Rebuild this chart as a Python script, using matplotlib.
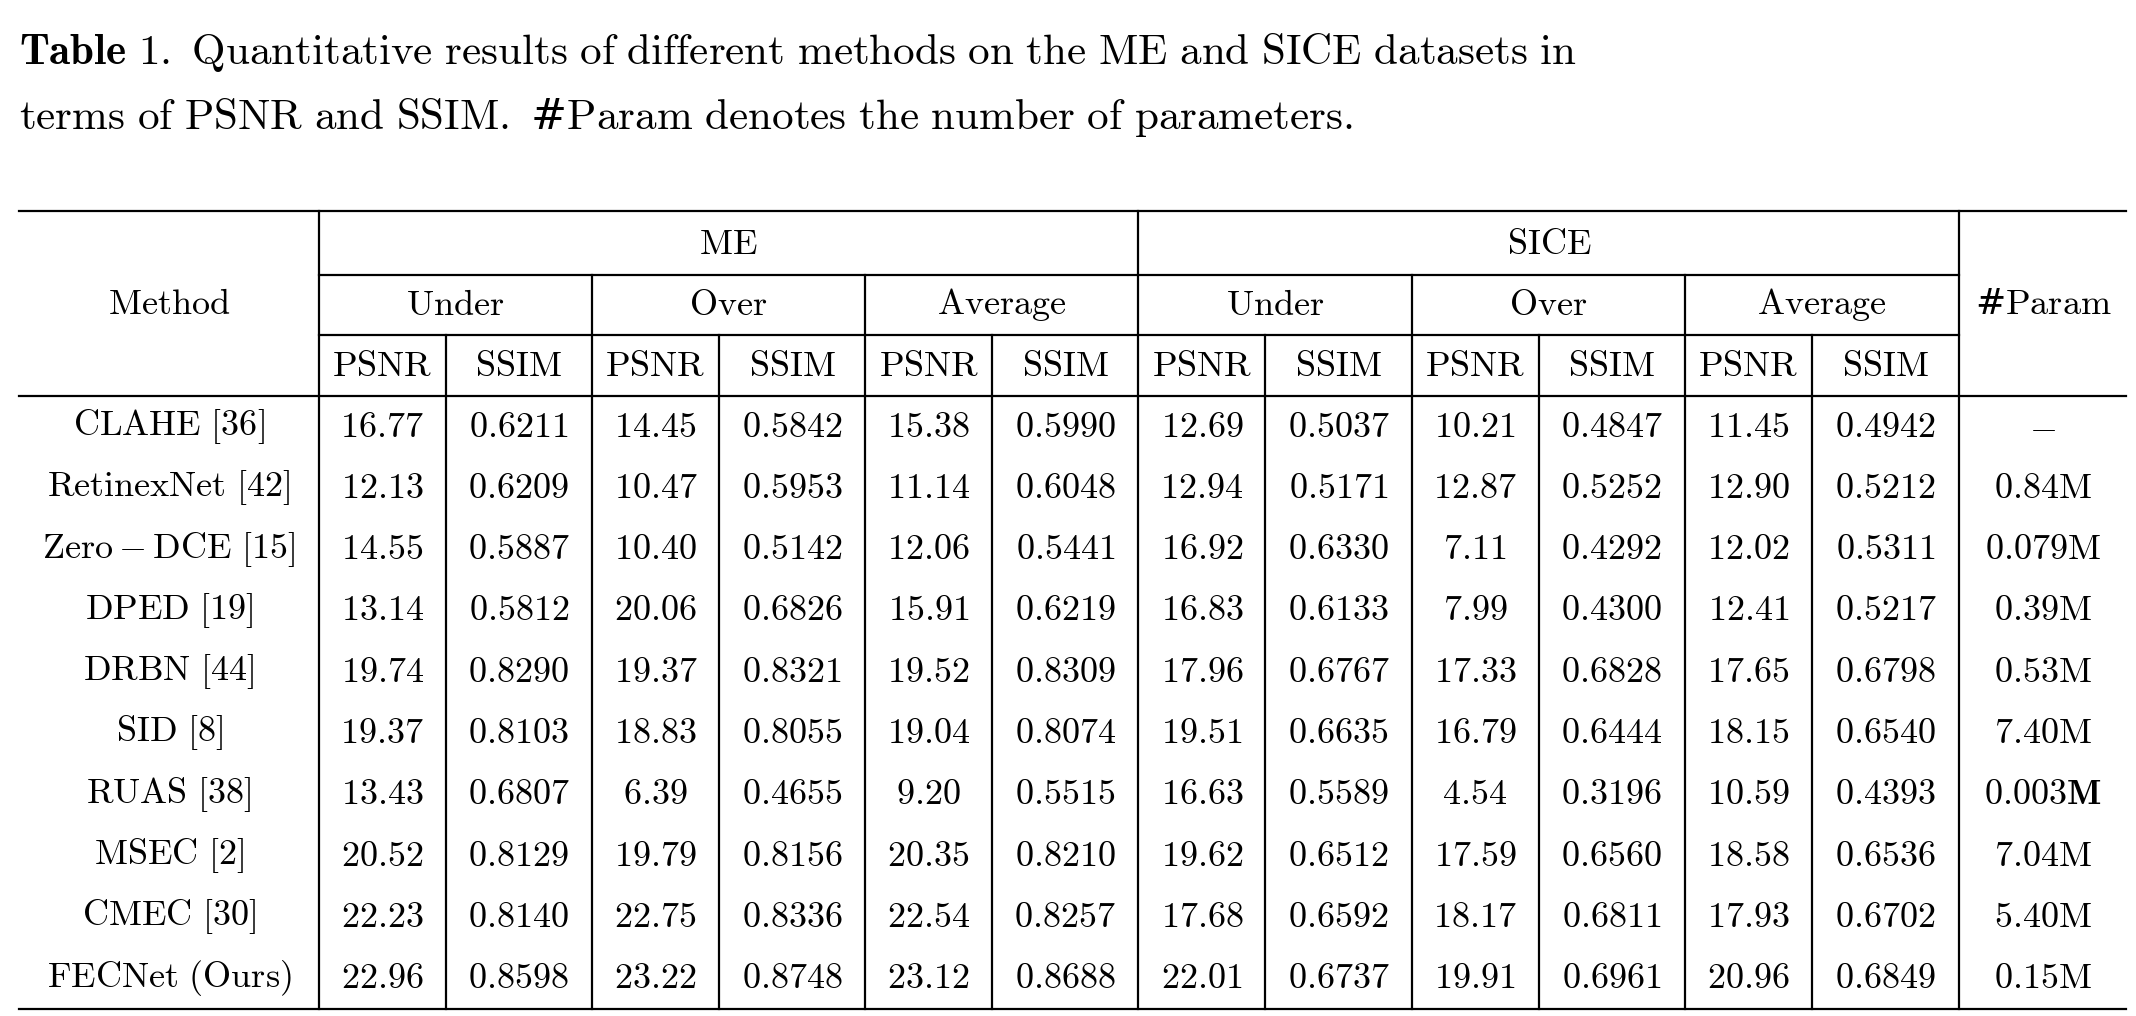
import matplotlib
matplotlib.use("Agg")
import matplotlib.pyplot as plt

plt.rcParams['mathtext.fontset'] = 'cm'
plt.rcParams['font.family'] = 'DejaVu Serif'

methods = ['CLAHE [36]', 'RetinexNet [42]', 'Zero-DCE [15]', 'DPED [19]', 'DRBN [44]',
           'SID [8]', 'RUAS [38]', 'MSEC [2]', 'CMEC [30]', 'FECNet (Ours)']
values = [
    ['16.77', '0.6211', '14.45', '0.5842', '15.38', '0.5990', '12.69', '0.5037', '10.21', '0.4847', '11.45', '0.4942'],
    ['12.13', '0.6209', '10.47', '0.5953', '11.14', '0.6048', '12.94', '0.5171', '12.87', '0.5252', '12.90', '0.5212'],
    ['14.55', '0.5887', '10.40', '0.5142', '12.06', '0.5441', '16.92', '0.6330', '7.11', '0.4292', '12.02', '0.5311'],
    ['13.14', '0.5812', '20.06', '0.6826', '15.91', '0.6219', '16.83', '0.6133', '7.99', '0.4300', '12.41', '0.5217'],
    ['19.74', '0.8290', '19.37', '0.8321', '19.52', '0.8309', '17.96', '0.6767', '17.33', '0.6828', '17.65', '0.6798'],
    ['19.37', '0.8103', '18.83', '0.8055', '19.04', '0.8074', '19.51', '0.6635', '16.79', '0.6444', '18.15', '0.6540'],
    ['13.43', '0.6807', '6.39', '0.4655', '9.20', '0.5515', '16.63', '0.5589', '4.54', '0.3196', '10.59', '0.4393'],
    ['20.52', '0.8129', '19.79', '0.8156', '20.35', '0.8210', '19.62', '0.6512', '17.59', '0.6560', '18.58', '0.6536'],
    ['22.23', '0.8140', '22.75', '0.8336', '22.54', '0.8257', '17.68', '0.6592', '18.17', '0.6811', '17.93', '0.6702'],
    ['22.96', '0.8598', '23.22', '0.8748', '23.12', '0.8688', '22.01', '0.6737', '19.91', '0.6961', '20.96', '0.6849'],
]
params = ['-', '0.84M', '0.079M', '0.39M', '0.53M', '7.40M', '0.003M', '7.04M', '5.40M', '0.15M']
# (row, col) bold cells; col 12 = #Param
bold = {(4, 7), (6, 12)} | {(9, c) for c in range(12) if c != 7}


def m(s, b=False):
    # '#' is kept outside the math parts
    out = []
    for part in s.split('#'):
        if part:
            p = part.replace(' ', '\\ ')
            out.append(r'$\mathbf{%s}$' % p if b else r'$\mathrm{%s}$' % p)
        out.append('#')
    return ''.join(out[:-1])


S = 2136 / 1548  # layout drawn in reference-scale units
fig = plt.figure(figsize=(21.36, 10.16), dpi=100)
ax = fig.add_axes([0, 0, 1, 1])
ax.set_xlim(0, 1548)
ax.set_ylim(1016 / S, 0)
ax.axis('off')

fs = 26
lw = 1.6

ax.text(14, 38, r'$\mathbf{Table\ 1.}\ \mathrm{Quantitative\ results\ of\ different\ methods\ on\ the\ ME\ and\ SICE\ datasets\ in}$',
        fontsize=31, va='center', ha='left')
ax.text(14, 85, m('terms of PSNR and SSIM. #Param denotes the number of parameters.'),
        fontsize=31, va='center', ha='left')

xs = [14, 231, 323, 429, 521, 627, 719, 825, 917, 1023, 1115, 1221, 1313, 1420, 1541]
top, y_me, y_sub, y_hdr, bot = 153, 199, 243, 287, 731
row_h = (bot - y_hdr) / len(methods)

for y, x0, x1 in [(top, xs[0], xs[-1]), (y_me, xs[1], xs[13]), (y_sub, xs[1], xs[13]),
                  (y_hdr, xs[0], xs[-1]), (bot, xs[0], xs[-1])]:
    ax.plot([x0, x1], [y, y], color='black', lw=lw)
for i in [1, 7, 13]:
    ax.plot([xs[i], xs[i]], [top, bot], color='black', lw=lw)
for i in [3, 5, 9, 11]:
    ax.plot([xs[i], xs[i]], [y_me, bot], color='black', lw=lw)
for i in [2, 4, 6, 8, 10, 12]:
    ax.plot([xs[i], xs[i]], [y_sub, bot], color='black', lw=lw)

ax.text((xs[0] + xs[1]) / 2, 220, m('Method'), fontsize=fs, ha='center', va='center')
ax.text((xs[13] + xs[14]) / 2, 220, m('#Param'), fontsize=fs, ha='center', va='center')
ax.text((xs[1] + xs[7]) / 2, 177, m('ME'), fontsize=fs, ha='center', va='center')
ax.text((xs[7] + xs[13]) / 2, 177, m('SICE'), fontsize=fs, ha='center', va='center')
for g, name in enumerate(['Under', 'Over', 'Average'] * 2):
    ax.text((xs[1 + 2 * g] + xs[3 + 2 * g]) / 2, 221, m(name), fontsize=fs, ha='center', va='center')
for c in range(12):
    ax.text((xs[1 + c] + xs[2 + c]) / 2, 265, m('PSNR' if c % 2 == 0 else 'SSIM'),
            fontsize=fs, ha='center', va='center')

for r, name in enumerate(methods):
    yc = y_hdr + row_h * (r + 0.5)
    ax.text((xs[0] + xs[1]) / 2, yc, m(name), fontsize=fs, ha='center', va='center')
    for c, v in enumerate(values[r]):
        ax.text((xs[1 + c] + xs[2 + c]) / 2, yc, m(v, (r, c) in bold), fontsize=fs, ha='center', va='center')
    ax.text((xs[13] + xs[14]) / 2, yc, m(params[r], (r, 12) in bold), fontsize=fs, ha='center', va='center')

fig.savefig('out.png', dpi=100, facecolor='white')
